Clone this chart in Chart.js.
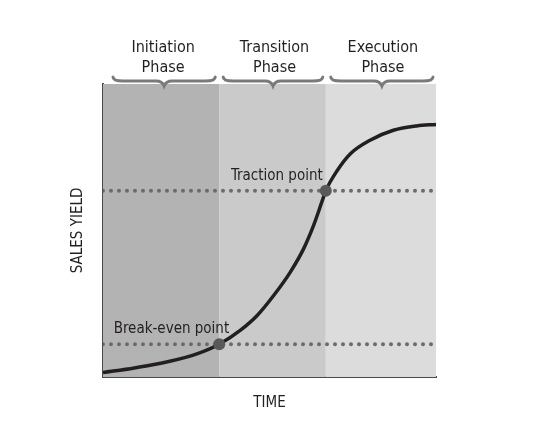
<!DOCTYPE html>
<html>
<head>
<meta charset="utf-8">
<script src="https://cdn.jsdelivr.net/npm/chart.js@4/dist/chart.umd.min.js"></script>
<style>
  html, body { margin: 0; padding: 0; background: #fff; }
  #wrap { width: 545px; height: 428px; position: relative; }
</style>
</head>
<body>
<div id="wrap"><canvas id="sCurveChart" width="545" height="428"></canvas></div>
<script>
// curve (time 0..100, yield 0..100)
const timeValues = [0, 9.4, 19.4, 28.4, 34.9, 41.3, 46.3, 51.3, 56.3, 60.3, 63.3, 65.8, 66.9, 70.3, 74.3, 80.2, 87.2, 94.2, 100];
const salesYield = [1.5, 3.1, 5.2, 8.0, 11.2, 16.0, 21.0, 27.9, 35.9, 43.9, 51.9, 60.0, 63.6, 70.4, 76.2, 80.8, 84.2, 85.7, 86.2];

const phaseNames = [["Initiation", "Phase"], ["Transition", "Phase"], ["Execution", "Phase"]];
const phaseBounds = [0, 34.9, 66.9, 100];

const milestoneNames = ["Break-even point", "Traction point"];
const milestoneTime = [34.9, 66.9];
const milestoneYield = [11.2, 63.6];

const phaseFills = ["#b3b3b4", "#cacacb", "#dcdcdd"];
const braceInset = [[10, 4], [4, 3], [5, 3]];
const FONT = "'Liberation Sans Narrow', 'DejaVu Sans Condensed', 'Roboto', sans-serif";

const curveData = timeValues.map((t, i) => ({ x: t, y: salesYield[i] }));
const dottedLines = milestoneYield.map((v) => ({
    type: "line",
    data: [{ x: 0, y: v }, { x: 100, y: v }],
    borderColor: "#6b6b6d",
    borderWidth: 4,
    borderDash: [0, 8],
    borderCapStyle: "round",
    pointRadius: 0,
    order: 3
}));

const phasePlugin = {
    id: "phases",
    beforeDatasetsDraw(chart) {
        const { ctx, chartArea, scales } = chart;
        ctx.save();
        for (let i = 0; i < phaseNames.length; i++) {
            let x0 = scales.x.getPixelForValue(phaseBounds[i]);
            let x1 = scales.x.getPixelForValue(phaseBounds[i + 1]);
            ctx.fillStyle = phaseFills[i];
            ctx.fillRect(x0, chartArea.top, x1 - x0, chartArea.bottom - chartArea.top);
        }
        ctx.restore();
    },
    afterDraw(chart) {
        const { ctx, chartArea, scales } = chart;
        ctx.save();
        let top = chartArea.top;
        for (let i = 0; i < phaseNames.length; i++) {
            let x0 = scales.x.getPixelForValue(phaseBounds[i]) + braceInset[i][0];
            let x1 = scales.x.getPixelForValue(phaseBounds[i + 1]) - braceInset[i][1];
            let cx = (x0 + x1) / 2;
            // curly brace over each phase
            ctx.strokeStyle = "#7a7a7b";
            ctx.lineWidth = 3;
            ctx.lineCap = "round";
            ctx.beginPath();
            ctx.moveTo(x0, top - 7);
            ctx.quadraticCurveTo(x0, top - 3, x0 + 10, top - 3);
            ctx.lineTo(cx - 8, top - 3);
            ctx.quadraticCurveTo(cx - 2, top - 3, cx, top + 2);
            ctx.quadraticCurveTo(cx + 2, top - 3, cx + 8, top - 3);
            ctx.lineTo(x1 - 10, top - 3);
            ctx.quadraticCurveTo(x1, top - 3, x1, top - 7);
            ctx.stroke();

            ctx.fillStyle = "#231f20";
            ctx.font = "16px " + FONT;
            ctx.textAlign = "center";
            ctx.textBaseline = "middle";
            let lx = (scales.x.getPixelForValue(phaseBounds[i]) + scales.x.getPixelForValue(phaseBounds[i + 1])) / 2;
            ctx.fillText(phaseNames[i][0], lx + 2, top - 36);
            ctx.fillText(phaseNames[i][1], lx + 2, top - 16);
        }
        // milestone labels
        ctx.font = "15px " + FONT;
        ctx.textAlign = "right";
        ctx.textBaseline = "middle";
        ctx.fillStyle = "#231f20";
        for (let i = 0; i < milestoneNames.length; i++) {
            let px = scales.x.getPixelForValue(milestoneTime[i]);
            let py = scales.y.getPixelForValue(milestoneYield[i]);
            ctx.fillText(milestoneNames[i], px + (i == 0 ? 10 : -3), py - 15);
        }
        ctx.restore();
    }
};

new Chart(document.getElementById("sCurveChart").getContext("2d"), {
    type: "line",
    data: {
        datasets: [
            {
                data: curveData,
                borderColor: "#231f20",
                borderWidth: 3.5,
                cubicInterpolationMode: "monotone",
                pointRadius: 0,
                order: 2
            },
            {
                type: "scatter",
                data: milestoneTime.map((t, i) => ({ x: t, y: milestoneYield[i] })),
                backgroundColor: "#59595b",
                borderWidth: 0,
                pointRadius: 6,
                order: 1
            },
            ...dottedLines
        ]
    },
    options: {
        responsive: false,
        animation: false,
        devicePixelRatio: 1,
        layout: { padding: { left: 69, right: 109, top: 84, bottom: 16 } },
        plugins: { legend: { display: false }, tooltip: { enabled: false } },
        scales: {
            x: {
                type: "linear", min: 0, max: 100,
                grid: { display: false, drawTicks: false },
                ticks: { display: false },
                border: { color: "#4a4a4c", width: 2 },
                title: { display: true, text: "TIME", color: "#231f20", font: { family: FONT, size: 15 }, padding: { top: 17, bottom: 0 } }
            },
            y: {
                type: "linear", min: 0, max: 100,
                grid: { display: false, drawTicks: false },
                ticks: { display: false },
                border: { color: "#4a4a4c", width: 2 },
                title: { display: true, text: "SALES YIELD", color: "#231f20", font: { family: FONT, size: 15 }, padding: { top: 0, bottom: 16 } }
            }
        }
    },
    plugins: [phasePlugin]
});
</script>
</body>
</html>
